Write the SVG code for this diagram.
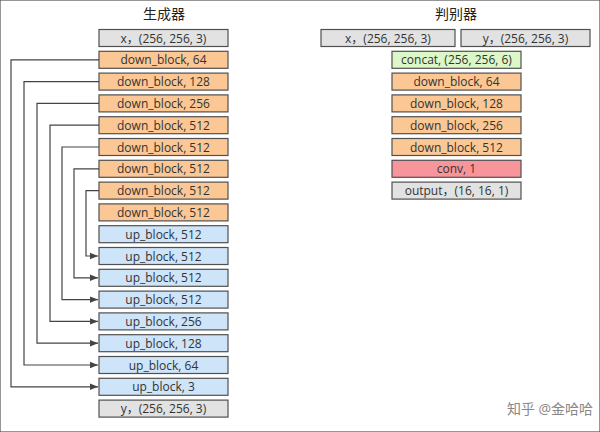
<svg xmlns="http://www.w3.org/2000/svg" width="600" height="432" viewBox="0 0 600 432">
<defs>
<style>
rect{stroke:#505050;stroke-width:1.2}
.g{fill:#e2e2e2}.o{fill:#fbc794}.b{fill:#cde4f9}.c{fill:#dcf7c8}.r{fill:#f7959a}
text{font-family:"Open Sans","Noto Sans","Noto Sans CJK SC",sans-serif;font-size:12px;fill:#333;text-anchor:middle;dominant-baseline:central}
.t{font-size:14px;fill:#222}
.l{fill:none;stroke:#444;stroke-width:1.2}
</style>
<marker id="a" viewBox="0 0 10 10" refX="10" refY="5" markerWidth="7" markerHeight="7" orient="auto"><path d="M0,1 L10,5 L0,9z" fill="#444"/></marker>
</defs>
<rect width="600" height="432" fill="#fff" stroke="none"/>
<text class="t" x="164" y="13">生成器</text>
<text class="t" x="456" y="13">判别器</text>
<g id="gen">
<g id="g0"><rect class="g" x="99" y="29.5" width="129" height="17"/><text x="163.5" y="38">x，(256, 256, 3)</text></g>
<g id="g1"><rect class="o" x="99" y="51.3" width="129" height="17"/><text x="163.5" y="59.8">down_block, 64</text></g>
<g id="g2"><rect class="o" x="99" y="73.1" width="129" height="17"/><text x="163.5" y="81.6">down_block, 128</text></g>
<g id="g3"><rect class="o" x="99" y="94.9" width="129" height="17"/><text x="163.5" y="103.4">down_block, 256</text></g>
<g id="g4"><rect class="o" x="99" y="116.7" width="129" height="17"/><text x="163.5" y="125.2">down_block, 512</text></g>
<g id="g5"><rect class="o" x="99" y="138.5" width="129" height="17"/><text x="163.5" y="147">down_block, 512</text></g>
<g id="g6"><rect class="o" x="99" y="160.3" width="129" height="17"/><text x="163.5" y="168.8">down_block, 512</text></g>
<g id="g7"><rect class="o" x="99" y="182.1" width="129" height="17"/><text x="163.5" y="190.6">down_block, 512</text></g>
<g id="g8"><rect class="o" x="99" y="203.9" width="129" height="17"/><text x="163.5" y="212.4">down_block, 512</text></g>
<g id="g9"><rect class="b" x="99" y="225.7" width="129" height="17"/><text x="163.5" y="234.2">up_block, 512</text></g>
<g id="g10"><rect class="b" x="99" y="247.5" width="129" height="17"/><text x="163.5" y="256">up_block, 512</text></g>
<g id="g11"><rect class="b" x="99" y="269.3" width="129" height="17"/><text x="163.5" y="277.8">up_block, 512</text></g>
<g id="g12"><rect class="b" x="99" y="291.1" width="129" height="17"/><text x="163.5" y="299.6">up_block, 512</text></g>
<g id="g13"><rect class="b" x="99" y="312.9" width="129" height="17"/><text x="163.5" y="321.4">up_block, 256</text></g>
<g id="g14"><rect class="b" x="99" y="334.7" width="129" height="17"/><text x="163.5" y="343.2">up_block, 128</text></g>
<g id="g15"><rect class="b" x="99" y="356.5" width="129" height="17"/><text x="163.5" y="365">up_block, 64</text></g>
<g id="g16"><rect class="b" x="99" y="378.3" width="129" height="17"/><text x="163.5" y="386.8">up_block, 3</text></g>
<g id="g17"><rect class="g" x="99" y="400.1" width="129" height="17"/><text x="163.5" y="408.6">y，(256, 256, 3)</text></g>
</g>
<g id="connectors">
<path class="l" d="M99,59.8 H11 V386.8 H98" marker-end="url(#a)"/>
<path class="l" d="M99,81.6 H24 V365 H98" marker-end="url(#a)"/>
<path class="l" d="M99,103.4 H37 V343.2 H98" marker-end="url(#a)"/>
<path class="l" d="M99,125.2 H50 V321.4 H98" marker-end="url(#a)"/>
<path class="l" d="M99,147 H62 V299.6 H98" marker-end="url(#a)"/>
<path class="l" d="M99,168.8 H74 V277.8 H98" marker-end="url(#a)"/>
<path class="l" d="M99,190.6 H86 V256 H98" marker-end="url(#a)"/>
</g>
<g id="disc">
<g id="d0"><rect class="g" x="321" y="29.5" width="134" height="17"/><text x="388" y="38">x，(256, 256, 3)</text></g>
<g id="d1"><rect class="g" x="461" y="29.5" width="129" height="17"/><text x="525.5" y="38">y，(256, 256, 3)</text></g>
<g id="d2"><rect class="c" x="392" y="51.3" width="129" height="17"/><text x="456.5" y="59.8">concat, (256, 256, 6)</text></g>
<g id="d3"><rect class="o" x="392" y="73.1" width="129" height="17"/><text x="456.5" y="81.6">down_block, 64</text></g>
<g id="d4"><rect class="o" x="392" y="94.9" width="129" height="17"/><text x="456.5" y="103.4">down_block, 128</text></g>
<g id="d5"><rect class="o" x="392" y="116.7" width="129" height="17"/><text x="456.5" y="125.2">down_block, 256</text></g>
<g id="d6"><rect class="o" x="392" y="138.5" width="129" height="17"/><text x="456.5" y="147">down_block, 512</text></g>
<g id="d7"><rect class="r" x="392" y="160.3" width="129" height="17"/><text x="456.5" y="168.8">conv, 1</text></g>
<g id="d8"><rect class="g" x="392" y="182.1" width="129" height="17"/><text x="456.5" y="190.6">output，(16, 16, 1)</text></g>
</g>
<text x="550" y="408" style="font-size:14px;fill:#888">知乎 @金哈哈</text>
</svg>
